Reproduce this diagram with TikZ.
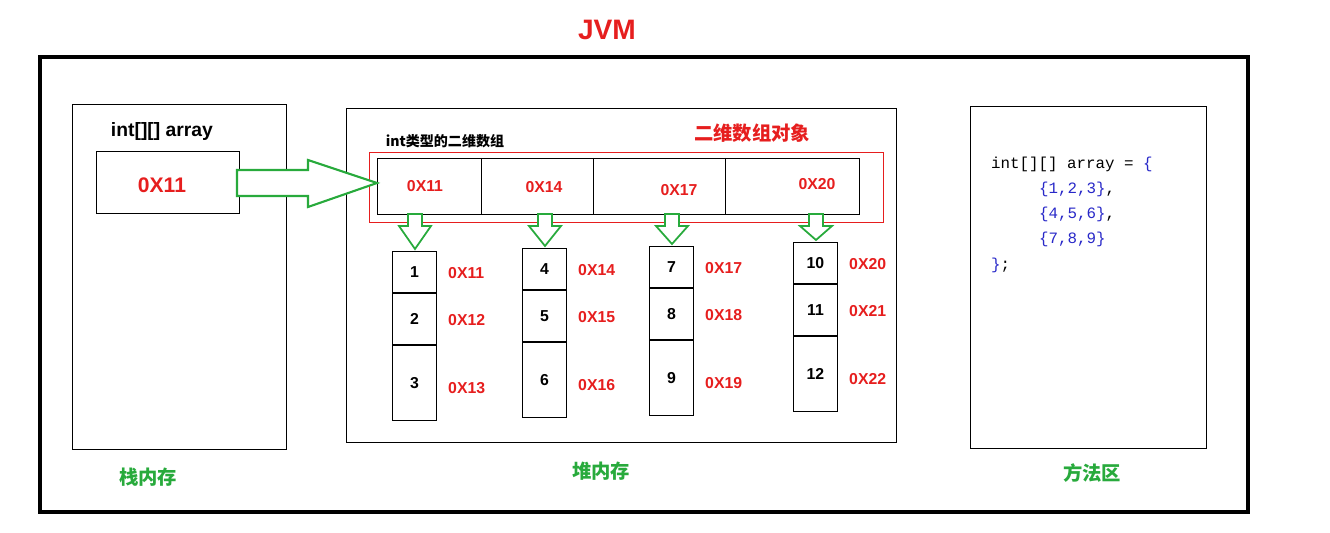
\documentclass[tikz,border=0pt]{standalone}
\usepackage{fontspec}
\setmainfont{Liberation Sans}
\setmonofont{Liberation Mono}
\newfontfamily\cjk{Noto Sans CJK SC}
\usetikzlibrary{positioning}
\definecolor{jred}{RGB}{230,30,30}
\definecolor{jgreen}{RGB}{40,170,60}
\definecolor{jblue}{RGB}{40,40,200}

\begin{document}
\begin{tikzpicture}[x=0.02cm,y=-0.02cm,
                    area box/.style={draw,line width=0.5pt},
                    cell box/.style={draw,line width=0.5pt,minimum width=44*0.02cm,inner sep=0pt,
                                     font=\bfseries\fontsize{9}{10}\selectfont},
                    addr/.style={text=jred,font=\bfseries\fontsize{9}{10}\selectfont},
                    zone/.style={text=jgreen,font=\cjk\bfseries\fontsize{11}{12}\selectfont},
                    hollow arrow/.style={draw=jgreen,fill=white,line width=1.2pt}]
  \useasboundingbox (0,0) rectangle (1330,533);

  \node[text=jred,font=\bfseries\fontsize{16}{18}\selectfont] (jvm) at (607,30) {JVM};
  \draw[line width=2pt] (40,57) rectangle (1248,512);

  % stack
  \draw[area box] (72,104) rectangle (286,449);
  \node[font=\bfseries\fontsize{11}{12}\selectfont] (decl) at (162,132) {int[][] array};
  \draw[area box] (96,151) rectangle (239,213);
  \node[text=jred,font=\bfseries\fontsize{12}{14}\selectfont] (ref) at (162,185) {0X11};
  \node[zone] (stack) at (148,477) {栈内存};

  % heap
  \draw[area box] (346,108) rectangle (896,442);
  \node[font=\cjk\bfseries\fontsize{8}{9}\selectfont] (type) at (445,141) {int类型的二维数组};
  \node[text=jred,font=\cjk\bfseries\fontsize{11}{12}\selectfont] (obj) at (752,133) {二维数组对象};
  \draw[jred,line width=0.5pt] (369,152) rectangle (883,222);
  \draw[area box] (377,158) rectangle (859,214);
  \foreach \x in {481,593,725}
    \draw[line width=0.5pt] (\x,158) -- (\x,214);
  \foreach \x/\y/\t in {425/186/0X11,544/187/0X14,679/190/0X17,817/184/0X20}
    \node[addr] at (\x,\y) {\t};
  \node[zone] (heap) at (601,471) {堆内存};

  % big arrow
  \draw[hollow arrow] (237,170) -- (308,170) -- (308,160) -- (377,183)
    -- (308,207) -- (308,196) -- (237,196) -- cycle;

  % columns
  \foreach \x/\y/\a/\b/\c/\p/\q/\r [count=\i] in
      {392/251/1/2/3/11/12/13, 522/248/4/5/6/14/15/16,
       649/246/7/8/9/17/18/19, 793/242/10/11/12/20/21/22}{
    \draw[hollow arrow,line width=1pt] (\x+16,214) -- (\x+30,214) -- (\x+30,226) -- (\x+39,226)
      -- (\x+23,\y-2) -- (\x+7,226) -- (\x+16,226) -- cycle;
    \node[cell box,minimum height=41*0.02cm,anchor=north west] (c\i a) at (\x,\y) {\a};
    \node[cell box,minimum height=51*0.02cm,below=0pt of c\i a] (c\i b) {\b};
    \node[cell box,minimum height=75*0.02cm,below=0pt of c\i b] (c\i c) {\c};
    \node[addr,anchor=west] at (\x+50,\y+22) {0X\p};
    \node[addr,anchor=west] at (\x+50,\y+69) {0X\q};
    \node[addr,anchor=west] at (\x+50,\y+137) {0X\r};
  }

  % method area
  \draw[area box] (970,106) rectangle (1206,448);
  \node[anchor=west,font=\ttfamily\fontsize{9}{10}\selectfont] (code) at (985,164) {int[][] array = {\textcolor{jblue}{\{}}};
  \foreach \y/\t/\s in {189/{1,2,3}/{,},214/{4,5,6}/{,},239/{7,8,9}/{}}
    \node[anchor=west,font=\ttfamily\fontsize{9}{10}\selectfont,text=jblue] at (1033,\y) {\{\t\}\textcolor{black}{\s}};
  \node[anchor=west,font=\ttfamily\fontsize{9}{10}\selectfont] (close) at (985,265) {\textcolor{jblue}{\}};};
  \node[zone] (method) at (1092,473) {方法区};
\end{tikzpicture}
\end{document}
